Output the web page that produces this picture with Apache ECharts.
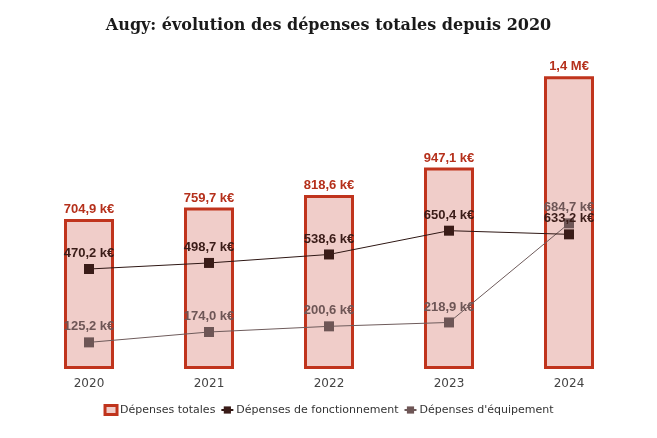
<!DOCTYPE html>
<html>
<head>
<meta charset="utf-8">
<script src="https://cdn.jsdelivr.net/npm/echarts@6/dist/echarts.min.js"></script>
<style>html,body{margin:0;padding:0;background:#fff}#c{width:657px;height:438px}</style>
</head>
<body>
<div id="c"></div>
<script>
var categories = ['2020', '2021', '2022', '2023', '2024'];
var totales = [704.9, 759.7, 818.6, 947.1, 1377];
var fonctionnement = [470.2, 498.7, 538.6, 650.4, 633.2];
var equipement = [125.2, 174.0, 200.6, 218.9, 684.7];

function fmt(v) {
  if (v >= 1000) return (v / 1000).toFixed(1).replace('.', ',') + ' M€';
  return v.toFixed(1).replace('.', ',') + ' k€';
}

var chart = echarts.init(document.getElementById('c'));
chart.setOption({
  animation: false,
  title: {
    text: 'Augy: évolution des dépenses totales depuis 2020',
    left: 'center', top: 13,
    textStyle: { fontFamily: 'DejaVu Serif', fontWeight: 'bold', fontSize: 16, color: '#1a1a1a' }
  },
  legend: {
    bottom: 17, left: 'center',
    itemWidth: 12, itemHeight: 9, itemGap: 5,
    textStyle: { fontFamily: 'DejaVu Sans', fontSize: 11, color: '#333', padding: [0, 0, 0, -2] },
    data: [
      { name: 'Dépenses totales', icon: 'rect', itemStyle: { borderWidth: 3 } },
      'Dépenses de fonctionnement', "Dépenses d'équipement"
    ]
  },
  grid: { left: 29, right: 28, top: 50, bottom: 69 },
  xAxis: {
    type: 'category', data: categories,
    axisLine: { show: false }, axisTick: { show: false },
    axisLabel: { fontFamily: 'DejaVu Sans', fontSize: 12, color: '#444', margin: 9 }
  },
  yAxis: { type: 'value', min: 0, max: 1500, show: false, splitLine: { show: false } },
  series: [
    {
      name: 'Dépenses totales', type: 'bar', data: totales, barWidth: 50,
      itemStyle: { color: '#f0cdc9', borderColor: '#c0341d', borderWidth: 3 },
      label: {
        show: true, position: 'top', distance: 3, formatter: function (p) { return fmt(p.value); },
        fontFamily: 'Liberation Sans', fontWeight: 'bold', fontSize: 13, color: '#b5301b'
      }
    },
    {
      name: "Dépenses d'équipement", type: 'line', data: equipement,
      symbol: 'rect', symbolSize: 10,
      lineStyle: { color: '#6e5b5b', width: 1 },
      itemStyle: { color: '#6e5656' },
      label: {
        show: true, position: 'top', distance: 4, formatter: function (p) { return fmt(p.value); },
        fontFamily: 'Liberation Sans', fontWeight: 'bold', fontSize: 13, color: '#6e5656'
      },
      z: 3
    },
    {
      name: 'Dépenses de fonctionnement', type: 'line', data: fonctionnement,
      symbol: 'rect', symbolSize: 10,
      lineStyle: { color: '#2e1714', width: 1 },
      itemStyle: { color: '#3a1c18' },
      label: {
        show: true, position: 'top', distance: 4, formatter: function (p) { return fmt(p.value); },
        fontFamily: 'Liberation Sans', fontWeight: 'bold', fontSize: 13, color: '#3a1c18'
      },
      z: 4
    }
  ]
});
</script>
</body>
</html>
